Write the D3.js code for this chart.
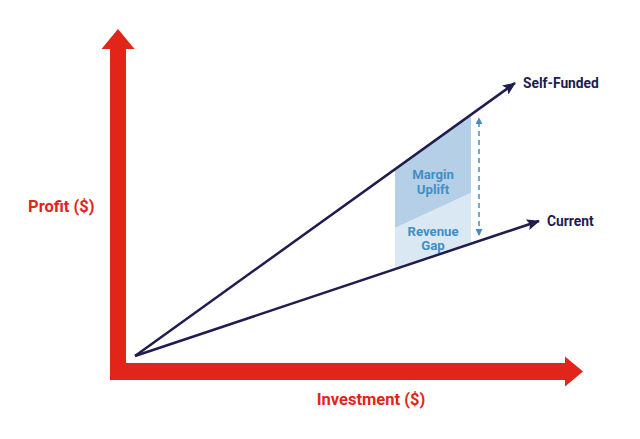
<!DOCTYPE html>
<html><head><meta charset="utf-8">
<script src="https://cdn.jsdelivr.net/npm/d3@7"></script>
<style>html,body{margin:0;padding:0;background:#fff;}svg{display:block;font-family:Roboto,"Noto Sans",sans-serif;}</style>
</head><body>
<script>
// Data (arbitrary units)
const origin = {x: 0, y: 0};
const seriesNames = ["Self-Funded", "Current"];
const seriesEndX = [9.5, 10.1];
const seriesEndY = [9.1, 4.5];
// shaded band corners at two investment levels
const bandX = [6.5, 8.4];
const bandCurrent = [2.93, 3.77];
const bandDivider = [4.27, 5.43];
const bandSelf = [6.23, 8.0];
const bandLabels = [["Margin", "Uplift"], ["Revenue", "Gap"]];
const gapX = 8.6;
const gapY = [4.03, 7.93];
const axisLabels = {x: "Investment ($)", y: "Profit ($)"};

const W = 640, H = 439;
const red = "#e1251b", navy = "#201c4f", blueTxt = "#3f8fc6";
const svg = d3.select("body").append("svg").attr("width", W).attr("height", H);

const x = d3.scaleLinear().domain([0, 10]).range([135, 535]);
const y = d3.scaleLinear().domain([0, 10]).range([356, 56]);

const defs = svg.append("defs");
defs.append("marker").attr("id", "navyHead").attr("viewBox", "0 0 13 11")
  .attr("refX", 12).attr("refY", 5.5).attr("markerWidth", 13).attr("markerHeight", 11)
  .attr("markerUnits", "userSpaceOnUse").attr("orient", "auto")
  .append("path").attr("d", "M0,0 L13,5.5 L0,11 L2.5,5.5 Z").attr("fill", navy);
defs.append("marker").attr("id", "blueHead").attr("viewBox", "0 0 8 8")
  .attr("refX", 7).attr("refY", 4).attr("markerWidth", 7).attr("markerHeight", 7)
  .attr("markerUnits", "userSpaceOnUse").attr("orient", "auto-start-reverse")
  .append("path").attr("d", "M0,0 L8,4 L0,8 Z").attr("fill", blueTxt);

// Red axes
const ax0 = x(0) - 25, ay0 = y(0) + 24; // outer corner
const thick = 16;
const axes = svg.append("g").attr("fill", red);
axes.append("rect").attr("x", ax0).attr("y", 48).attr("width", thick).attr("height", ay0 - 48);
axes.append("path").attr("d", `M${ax0 + thick/2 - 16.5},49 L${ax0 + thick/2},29 L${ax0 + thick/2 + 16.5},49 Z`);
axes.append("rect").attr("x", ax0).attr("y", ay0 - thick - 1).attr("width", 566 - ax0).attr("height", thick + 1);
axes.append("path").attr("d", `M565,${ay0 - 8.5 - 15} L583,${ay0 - 8.5} L565,${ay0 - 8.5 + 15} Z`);

// Shaded band
const idx = [0, 1];
svg.append("path").datum(idx)
  .attr("d", d3.area().x(i => x(bandX[i])).y0(i => y(bandDivider[i])).y1(i => y(bandSelf[i])))
  .attr("fill", "#b5d0e6");
svg.append("path").datum(idx)
  .attr("d", d3.area().x(i => x(bandX[i])).y0(i => y(bandCurrent[i])).y1(i => y(bandDivider[i])))
  .attr("fill", "#d9e8f3");

// band labels
const midX = (x(bandX[0]) + x(bandX[1])) / 2;
const lblY = [[174, 189], [231, 245]];
bandLabels.forEach((lines, j) => {
  lines.forEach((t, k) => {
    svg.append("text").attr("x", midX).attr("y", lblY[j][k] + 4.5).attr("text-anchor", "middle")
      .attr("font-size", 13.2).attr("font-weight", 700).attr("fill", blueTxt).text(t);
  });
});

// Dashed gap arrow
svg.append("line").attr("x1", x(gapX)).attr("x2", x(gapX))
  .attr("y1", y(gapY[0])).attr("y2", y(gapY[1]))
  .attr("stroke", blueTxt).attr("stroke-width", 1.5).attr("stroke-dasharray", "5,4")
  .attr("marker-start", "url(#blueHead)").attr("marker-end", "url(#blueHead)");

// Series lines
seriesNames.forEach((name, i) => {
  svg.append("line").attr("x1", x(origin.x)).attr("y1", y(origin.y))
    .attr("x2", x(seriesEndX[i])).attr("y2", y(seriesEndY[i]))
    .attr("stroke", navy).attr("stroke-width", 2.5).attr("marker-end", "url(#navyHead)");
  svg.append("text").attr("x", x(seriesEndX[i]) + 8).attr("y", y(seriesEndY[i]) + 5)
    .attr("font-size", 13.8).attr("font-weight", 700).attr("fill", navy).text(name);
});

// Axis labels
svg.append("text").attr("x", 28).attr("y", 212).attr("font-size", 16.5).attr("font-weight", 700)
  .attr("fill", red).text(axisLabels.y);
svg.append("text").attr("x", 371).attr("y", 405).attr("text-anchor", "middle").attr("font-size", 16.5)
  .attr("font-weight", 700).attr("fill", red).text(axisLabels.x);
</script>
</body></html>
